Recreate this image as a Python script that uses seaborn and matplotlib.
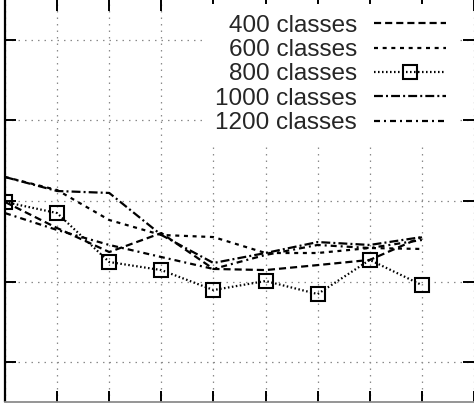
import matplotlib
matplotlib.use("Agg")
import matplotlib.pyplot as plt
import seaborn as sns
import pandas as pd

# data (no axis labels survive in the crop)
steps = list(range(9))
series_names = ["400 classes", "600 classes", "800 classes", "1000 classes", "1200 classes"]
acc_400 = [79.94, 78.32, 76.83, 78.01, 75.78, 75.71, 76.02, 76.34, 77.76]
acc_600 = [81.49, 80.68, 78.82, 77.89, 77.76, 76.77, 76.77, 77.08, 77.02]
acc_800 = [79.94, 79.25, 76.21, 75.71, 74.47, 75.03, 74.22, 76.34, 74.78]
acc_1000 = [81.49, 80.62, 80.50, 77.89, 76.15, 76.77, 77.45, 77.27, 77.76]
acc_1200 = [79.25, 78.20, 77.27, 76.52, 75.78, 76.65, 77.27, 77.08, 77.58]
y_ticks = [70, 75, 80, 85, 90]
x_ticks = list(range(10))

frames = []
for name, vals in zip(series_names, [acc_400, acc_600, acc_800, acc_1000, acc_1200]):
    frames.append(pd.DataFrame({"step": steps, "acc": vals, "classes": name}))
df = pd.concat(frames, ignore_index=True)

sns.set_theme(style="ticks")
plt.rcParams["font.family"] = ["Liberation Sans", "DejaVu Sans"]

# dash patterns in units of line width
dash_map = {
    "400 classes": (3.2, 1.8),
    "600 classes": (1.8, 2.1),
    "800 classes": (0.7, 1.1),
    "1000 classes": (4.0, 1.4, 0.9, 1.4),
    "1200 classes": (2.7, 1.8, 0.9, 1.8),
}

fig = plt.figure(figsize=(4.74, 4.03), dpi=100)
rect = [5 / 474, 1.5 / 403, 1 - 5 / 474, 1 - 1.5 / 403]

# background axes that only carries the grid, so the key box can hide it
gax = fig.add_axes(rect)
ax = fig.add_axes(rect, sharex=gax, sharey=gax)
ax.patch.set_visible(False)

sns.lineplot(data=df, x="step", y="acc", hue="classes", style="classes",
             hue_order=series_names, style_order=series_names,
             palette={n: "black" for n in series_names},
             dashes=dash_map, markers=False, linewidth=1.6, legend=False, ax=ax)

for line, name in zip(ax.lines, series_names):
    line.set_label(name)
    if name == "800 classes":
        line.set_marker("s")
        line.set_markersize(9.5)
        line.set_markeredgewidth(1.5)
        line.set_markeredgecolor("black")
        line.set_markerfacecolor("none")

ax.set_xlim(0, 9)
ax.set_ylim(67.547, 92.484)
ax.set_xticks(x_ticks)
ax.set_yticks(y_ticks)
ax.set_xticklabels([])
ax.set_yticklabels([])
ax.set_xlabel("")
ax.set_ylabel("")
ax.tick_params(direction="in", length=8, width=1.4, color="black",
               top=True, right=True, bottom=True, left=True)
ax.grid(False)
for side in ["top", "right"]:
    ax.spines[side].set_visible(False)
ax.spines["left"].set_color("black")
ax.spines["left"].set_linewidth(1.6)
ax.spines["bottom"].set_color("#8c8c8c")
ax.spines["bottom"].set_linewidth(1.3)

gax.grid(True, color="#8a8a8a", linestyle=(0, (1.2, 4)), linewidth=0.9)
gax.tick_params(length=0, labelbottom=False, labelleft=False)
for s in gax.spines.values():
    s.set_visible(False)

leg = ax.legend(loc="upper right", bbox_to_anchor=(0.963, 0.991), markerfirst=False,
                frameon=True, fancybox=False, framealpha=1, edgecolor="none",
                facecolor="white", fontsize=17.5, handlelength=2.95,
                handletextpad=0.7, labelspacing=0.1, borderpad=0.45,
                borderaxespad=0)
leg.set_zorder(2.2)

fig.savefig("out.png", dpi=100)
plt.close()
